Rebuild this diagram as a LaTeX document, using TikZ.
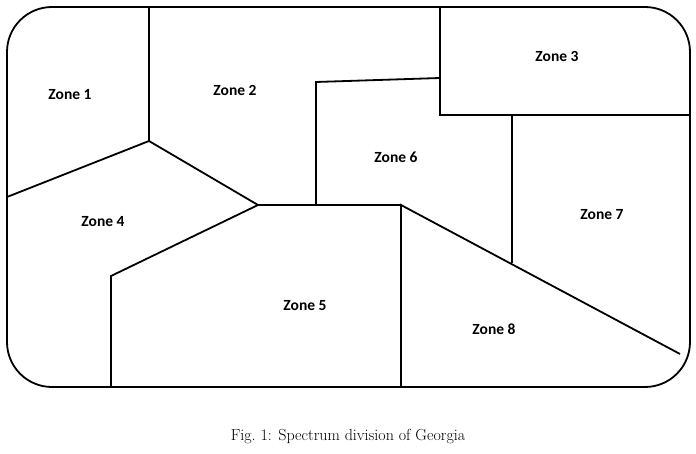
\documentclass[tikz,border=0pt]{standalone}
\usepackage{fontspec}
\newfontfamily\zonefont{Carlito}
\tikzset{
    zone/.style={font=\zonefont\bfseries\fontsize{15.5}{18}\selectfont},
    border/.style={draw=black, line width=1.8pt},
    caption/.style={font=\fontsize{16}{18}\selectfont}
}
\begin{document}
\begin{tikzpicture}[x=1pt, y=-1pt]
        \useasboundingbox (0,0) rectangle (696,454);
        % Outer frame
        \draw[border, rounded corners=45pt] (7,7) rectangle (690,387);

        % Borders between zones
        \draw[border] (149,7) -- (149,141);
        \draw[border] (7,197) -- (149,141) -- (258,205) -- (401,205);
        \draw[border] (258,205) -- (111,276) -- (111,387);
        \draw[border] (316,205) -- (316,82) -- (440,78);
        \draw[border] (440,7) -- (440,115) -- (690,115);
        \draw[border] (512,115) -- (512,263);
        \draw[border] (401,387) -- (401,205) -- (680,354);

        % Zone labels
        \node[zone] (Z1) at (70,95) {Zone 1};
        \node[zone] (Z2) at (235,90) {Zone 2};
        \node[zone] (Z3) at (557,56) {Zone 3};
        \node[zone] (Z4) at (103,222) {Zone 4};
        \node[zone] (Z5) at (305,306) {Zone 5};
        \node[zone] (Z6) at (396,157) {Zone 6};
        \node[zone] (Z7) at (602,215) {Zone 7};
        \node[zone] (Z8) at (494,329) {Zone 8};

        % Caption
        \node[caption] (Cap) at (348,437) {Fig.~1: Spectrum division of Georgia};
\end{tikzpicture}
\end{document}
